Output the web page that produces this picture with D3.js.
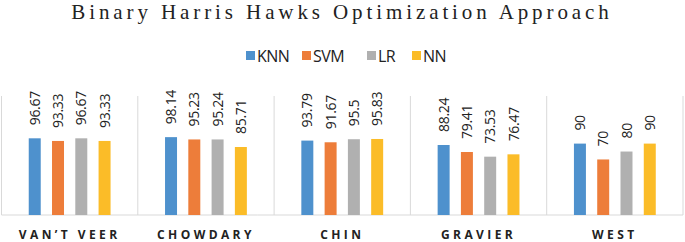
<!DOCTYPE html>
<html>
<head>
<meta charset="utf-8">
<script src="https://cdn.jsdelivr.net/npm/d3@7"></script>
<style>
  body { margin: 0; background: #fff; }
  text { fill: #222; }
</style>
</head>
<body>
<div id="chart"></div>
<script>
const categories = ["VAN\u2019T VEER", "CHOWDARY", "CHIN", "GRAVIER", "WEST"]
const series = ["KNN", "SVM", "LR", "NN"]
const knn = [96.67, 98.14, 93.79, 88.24, 90]
const svmVals = [93.33, 95.23, 91.67, 79.41, 70]
const lr = [96.67, 95.24, 95.5, 73.53, 80]
const nn = [93.33, 85.71, 95.83, 76.47, 90]
const colors = ["#4e91cd", "#ed7d3a", "#b0b0b0", "#fbbc28"]

const values = [knn, svmVals, lr, nn]
const rows = categories.map((c, i) => ({
  cat: c,
  vals: series.map((s, j) => ({ s: s, v: values[j][i] }))
}))

const params = {
  width: 685,
  height: 242,
  left: 1.5,
  right: 683,
  top: 96,
  base: 215,
}

const svg = d3.select('#chart')
  .append('svg')
  .attr('width', params.width)
  .attr('height', params.height)

// title
svg.append('text')
  .attr('x', 342)
  .attr('y', 19)
  .attr('text-anchor', 'middle')
  .style('font-family', '"Liberation Serif", "Times New Roman", serif')
  .style('font-size', '21px')
  .style('letter-spacing', '3.9px')
  .text('Binary Harris Hawks Optimization Approach')

// legend
const legendX = [246, 302, 367, 412]
const legend = svg.append('g')
series.forEach((s, i) => {
  const g = legend.append('g').attr('transform', `translate(${legendX[i]},51)`)
  g.append('rect').attr('width', 9).attr('height', 9).attr('fill', colors[i])
  g.append('text')
    .attr('x', 11)
    .attr('y', 10.5)
    .style('font-family', '"Open Sans", sans-serif')
    .style('font-size', '16px')
    .style('letter-spacing', '-0.5px')
    .text(s)
})

// scales
const x = d3.scaleBand()
  .domain(categories)
  .range([params.left, params.right])

const xInner = d3.scaleBand()
  .domain(series)
  .range([0, x.bandwidth()])
  .paddingInner(0.485)
  .paddingOuter(1.17)

const y = d3.scaleLinear()
  .domain([0, 150])
  .range([params.base, params.top])

// vertical separators
const seps = categories.map(c => x(c)).concat([params.right])
svg.append('g').selectAll('line')
  .data(seps)
  .enter()
  .append('line')
  .attr('x1', d => d)
  .attr('x2', d => d)
  .attr('y1', params.top)
  .attr('y2', params.base)
  .attr('stroke', '#d9d9d9')
  .attr('stroke-width', 1)

// baseline
svg.append('line')
  .attr('x1', params.left)
  .attr('x2', params.right)
  .attr('y1', params.base)
  .attr('y2', params.base)
  .attr('stroke', '#d9d9d9')

const groups = svg.append('g').selectAll('g')
  .data(rows)
  .enter()
  .append('g')
  .attr('transform', d => `translate(${x(d.cat)},0)`)

groups.selectAll('rect')
  .data(d => d.vals)
  .enter()
  .append('rect')
  .attr('x', d => xInner(d.s))
  .attr('y', d => y(d.v))
  .attr('width', xInner.bandwidth())
  .attr('height', d => y(0) - y(d.v))
  .attr('fill', (d, i) => colors[i])

// value labels
groups.selectAll('text.val')
  .data(d => d.vals)
  .enter()
  .append('text')
  .attr('class', 'val')
  .attr('transform', d => `translate(${xInner(d.s) + xInner.bandwidth() / 2},${y(d.v) - 13}) rotate(-90)`)
  .attr('dy', '0.36em')
  .style('font-family', '"Open Sans", sans-serif')
  .style('font-size', '14px')
  .style('letter-spacing', '-0.3px')
  .text(d => d.v)

// category labels
groups.append('text')
  .attr('x', x.bandwidth() / 2)
  .attr('y', 238.5)
  .attr('text-anchor', 'middle')
  .style('font-family', '"Open Sans", sans-serif')
  .style('font-weight', 'bold')
  .style('font-size', '12px')
  .style('letter-spacing', '3.4px')
  .text(d => d.cat)
</script>
</body>
</html>
